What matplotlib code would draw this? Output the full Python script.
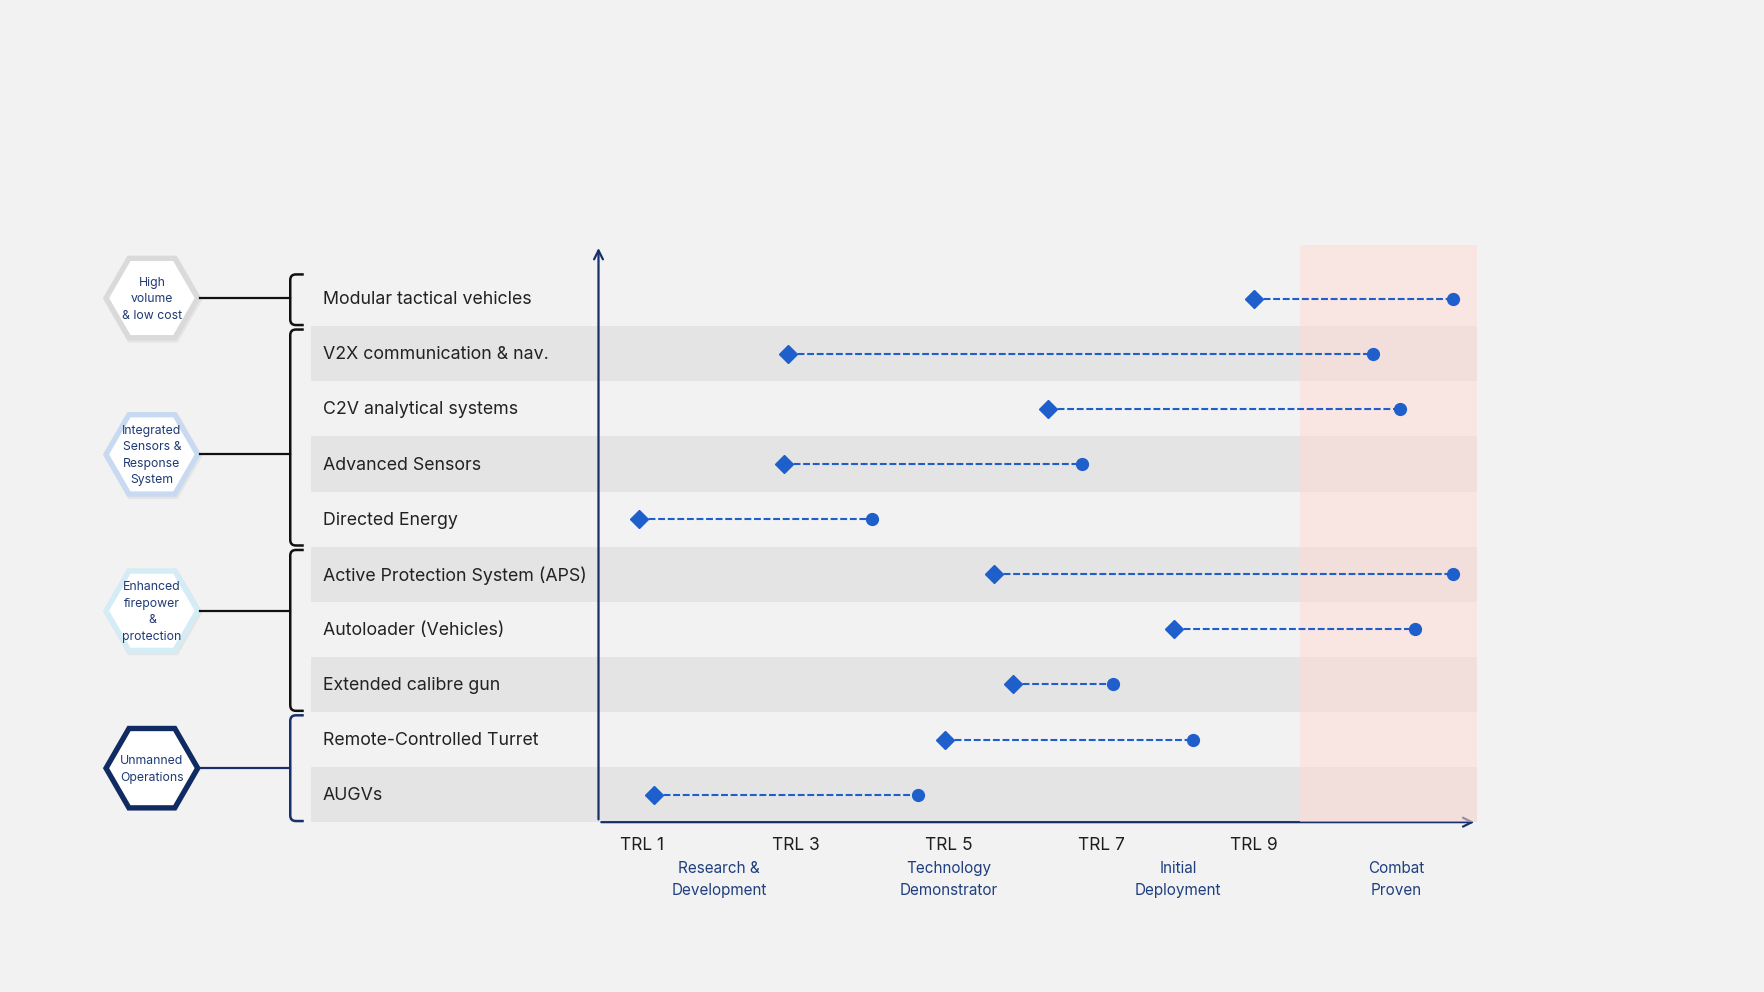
import numpy as np
import matplotlib.pyplot as plt
import matplotlib.transforms as mtransforms
from matplotlib.patches import Rectangle, RegularPolygon, PathPatch
from matplotlib.path import Path

plt.rcParams['font.family'] = ['Inter', 'DejaVu Sans']

# data
technologies = ['Modular tactical vehicles', 'V2X communication & nav.', 'C2V analytical systems',
                'Advanced Sensors', 'Directed Energy', 'Active Protection System (APS)',
                'Autoloader (Vehicles)', 'Extended calibre gun', 'Remote-Controlled Turret', 'AUGVs']
trl_start = [9.0, 2.9, 6.3, 2.85, 0.95, 5.6, 7.95, 5.85, 4.95, 1.15]
trl_end = [11.6, 10.55, 10.9, 6.75, 4.0, 11.6, 11.1, 7.15, 8.2, 4.6]
tick_values = [1, 3, 5, 7, 9]
tick_labels = ['TRL 1', 'TRL 3', 'TRL 5', 'TRL 7', 'TRL 9']
stage_positions = [2, 5, 8, 10.85]
stage_labels = ['Research &\nDevelopment', 'Technology\nDemonstrator', 'Initial\nDeployment', 'Combat\nProven']
combat_proven_from = 9.59
groups = ['High\nvolume\n& low cost', 'Integrated\nSensors &\nResponse\nSystem',
          'Enhanced\nfirepower\n&\nprotection', 'Unmanned\nOperations']
group_first = [0, 1, 5, 8]
group_last = [0, 4, 7, 9]

# layout (reference pixel grid 1568 x 882)
W, H = 1568, 882
AX_L, AX_R, AX_T, AX_B = 532, 1313, 218, 731
ROW_PX = 49
n = len(technologies)
XMIN = 1 - (571 - AX_L) / 68
XMAX = 1 + (AX_R - 571) / 68
YMAX = (AX_B - AX_T) / ROW_PX

navy = '#17306a'
blue = '#1f5fcc'
bg = '#f2f2f2'

fig = plt.figure(figsize=(17.64, 9.92), dpi=100, facecolor=bg)

# overlay for the group hexagons and brackets
ov = fig.add_axes([0, 0, 1, 1])
ov.set_xlim(0, W)
ov.set_ylim(H, 0)
ov.axis('off')

ax = fig.add_axes([AX_L / W, 1 - AX_B / H, (AX_R - AX_L) / W, (AX_B - AX_T) / H])
ax.set_facecolor('none')
ax.set_xlim(XMIN, XMAX)
ax.set_ylim(0, YMAX)
for s in ax.spines.values():
    s.set_visible(False)
ax.set_yticks([])
ax.set_xticks(tick_values, tick_labels)
ax.tick_params(axis='x', length=0, pad=11, labelsize=12.5, labelcolor='#1e1e1e')

blend = mtransforms.blended_transform_factory(ax.transAxes, ax.transData)
band_left = (276 - AX_L) / (AX_R - AX_L)

y_pos = [n - i - 0.5 for i in range(n)]
for i, name in enumerate(technologies):
    if i % 2 == 1:
        ax.add_patch(Rectangle((band_left, y_pos[i] - 0.5), 1 - band_left, 1,
                               transform=blend, color='#e4e4e4', lw=0, zorder=0, clip_on=False))
    ax.text(band_left + 0.014, y_pos[i] - 0.02, name, transform=blend, ha='left', va='center',
            fontsize=12.8, color='#222222')

# combat proven zone
ax.axvspan(combat_proven_from, XMAX, ymin=0, ymax=1, color=(1.0, 0.86, 0.83), alpha=0.55, lw=0, zorder=2)

# axes arrows
ax.annotate('', xy=(0, 1.0), xytext=(0, 0), xycoords='axes fraction',
            arrowprops=dict(arrowstyle='->', color=navy, lw=1.6, mutation_scale=16), zorder=1)
ax.annotate('', xy=(1.0, 0), xytext=(0, 0), xycoords='axes fraction',
            arrowprops=dict(arrowstyle='->', color=navy, lw=1.6, mutation_scale=16), zorder=1)

# dumbbells
for i in range(n):
    ax.plot([trl_start[i], trl_end[i]], [y_pos[i], y_pos[i]], color=blue, lw=1.5,
            linestyle=(0, (3.3, 1.3)), zorder=3)
    ax.plot(trl_start[i], y_pos[i], marker='D', ms=9.5, color=blue, mec=blue, zorder=4)
    ax.plot(trl_end[i], y_pos[i], marker='o', ms=8.5, color=blue, mec=blue, zorder=4)

# stage labels
tb = mtransforms.blended_transform_factory(ax.transData, ax.transAxes)
for xp, lab in zip(stage_positions, stage_labels):
    ax.text(xp, -(782 - AX_B) / (AX_B - AX_T), lab, transform=tb, ha='center', va='center',
            fontsize=11, color='#1f3f7f', linespacing=1.6)

# group hexagons + brackets
hex_y = [265, 404, 543, 683]
hex_x = 135
hex_edge = ['#dadada', '#c8daf2', '#d3ecf5', '#102a62']
line_col = ['#111111', '#111111', '#111111', navy]
for g, label in enumerate(groups):
    top = AX_B - ROW_PX * (n - group_first[g]) + 3
    bot = AX_B - ROW_PX * (n - group_last[g] - 1) - 1
    bx, r = 258, 5
    verts = [(270, top), (bx + r, top), (bx, top), (bx, top + r), (bx, bot - r), (bx, bot),
             (bx + r, bot), (270, bot)]
    codes = [Path.MOVETO, Path.LINETO, Path.CURVE3, Path.CURVE3, Path.LINETO, Path.CURVE3,
             Path.CURVE3, Path.LINETO]
    ov.add_patch(PathPatch(Path(verts, codes), fill=False, ec=line_col[g], lw=1.8,
                           capstyle='butt'))
    cy = hex_y[g]
    ov.plot([hex_x + 43, bx], [cy, cy], color=line_col[g], lw=1.6)
    if g < 3:
        ov.add_patch(RegularPolygon((hex_x + 1, cy + 1.5), 6, radius=44, orientation=np.pi / 6,
                                    color='#000000', alpha=0.05, lw=0))
    ov.add_patch(RegularPolygon((hex_x, cy), 6, radius=43.5, orientation=np.pi / 6,
                                color=hex_edge[g], lw=0))
    ov.add_patch(RegularPolygon((hex_x, cy), 6, radius=38.0, orientation=np.pi / 6,
                                color='white', lw=0))
    ov.text(hex_x, cy + 1, label, ha='center', va='center', fontsize=8.8, color='#1f3a75',
            linespacing=1.5)

fig.savefig('out.png', dpi=100, facecolor=bg)
